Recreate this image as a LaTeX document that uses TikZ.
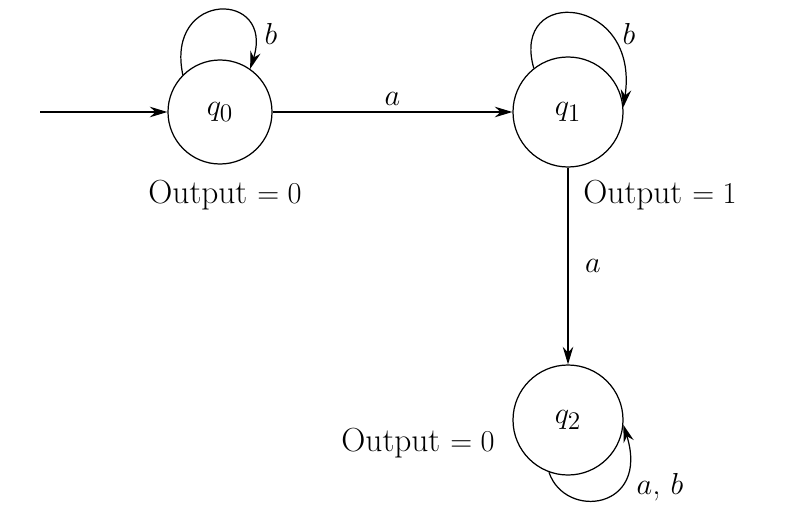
\documentclass[tikz,border=0pt]{standalone}
\usetikzlibrary{arrows.meta}
\begin{document}
\begin{tikzpicture}[
  st/.style={circle,draw,line width=0.7pt,minimum size=2.1cm,inner sep=0pt,font=\fontsize{19}{22}\selectfont},
  lb/.style={font=\fontsize{19}{22}\selectfont},
  ar/.style={line width=0.7pt,-{Stealth[length=10pt,width=6pt]}}]
\useasboundingbox (0,0) rectangle (16,-10.48);
\node[st,minimum size=2.08cm] (q0) at (4.4,-2.24) {$q_0$};
\node[st,minimum size=2.2cm] (q1) at (11.36,-2.24) {$q_1$};
\node[st,minimum size=2.2cm] (q2) at (11.36,-8.4) {$q_2$};
\coordinate (s) at (0.8,-2.24);
\draw[ar] (s) -- (q0);
\draw[ar] (q0) -- node[lb,above]{$a$} (q1);
\draw[ar] (q1) -- node[lb,right=6pt]{$a$} (q2);
\draw[ar] (q0.135) .. controls (3.3,0.2) and (5.5,0.2) .. (q0.55);
\node[lb] (b0) at (5.42,-0.68) {$b$};
\draw[ar] (q1.128) .. controls (10.2,0.3) and (12.8,0.1) .. (q1.5);
\node[lb] (b1) at (12.58,-0.68) {$b$};
\draw[ar] (q2.-110) .. controls (11.3,-10.4) and (13,-10.2) .. (q2.-5);
\node[lb] (ab) at (13.2,-9.74) {$a$, $b$};
\node[lb] (o0) at (4.5,-3.9) {Output $=0$};
\node[lb] (o1) at (13.2,-3.9) {Output $=1$};
\node[lb] (o2) at (8.36,-8.86) {Output $=0$};
\end{tikzpicture}
\end{document}
